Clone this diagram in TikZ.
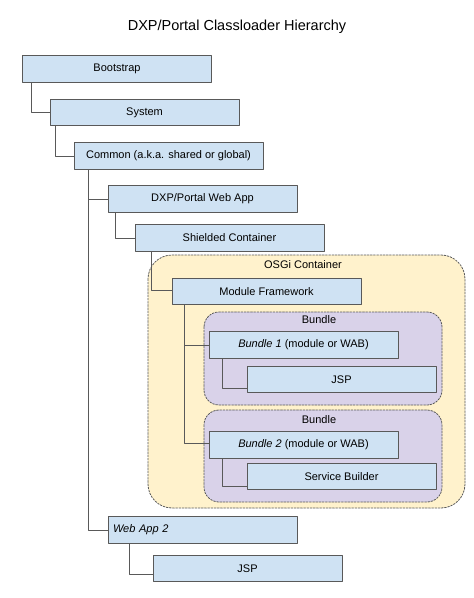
\documentclass[tikz,border=0pt]{standalone}
\usepackage{fontspec}
\setmainfont{Liberation Sans}
\usepackage{xcolor}
\definecolor{boxblue}{HTML}{CFE2F3}
\definecolor{boxline}{HTML}{595959}
\definecolor{osgiyellow}{HTML}{FFF2CC}
\definecolor{bundlepurple}{HTML}{D9D2E9}
\tikzset{
  loader/.style={draw=boxline, fill=boxblue, line width=0.9pt, minimum width=189pt, minimum height=26.5pt, inner sep=0pt, font=\fontsize{11}{13}\selectfont},
  link/.style={draw=boxline, line width=0.9pt},
  osgibox/.style={draw=boxline, fill=osgiyellow, line width=0.8pt, dash pattern=on 1.8pt off 1.4pt, rounded corners=24pt},
  bundlebox/.style={draw=boxline, fill=bundlepurple, line width=0.8pt, dash pattern=on 1.8pt off 1.4pt, rounded corners=15pt},
  caption/.style={font=\fontsize{11}{13}\selectfont}
}
\begin{document}
\begin{tikzpicture}[line cap=round,line join=round,x=1pt,y=-1pt]
			\useasboundingbox (0,0) rectangle (474,598);
			% containers
			\draw [osgibox] (148,255) rectangle (465,508);
			\draw [bundlebox] (204,312) rectangle (442,405);
			\draw [bundlebox] (204,410) rectangle (442,502);
			\node (title) at (237,27) {\fontsize{14.5}{17}\selectfont DXP/Portal Classloader Hierarchy};
			\node [caption] (osgilabel) at (303,265) {OSGi Container};
			\node [caption] (bundlelabela) at (319,320) {Bundle};
			\node [caption] (bundlelabelb) at (319,420) {Bundle};
			% class loaders
			\node [loader] (boot) at (117,69) {Bootstrap};
			\node [loader] (sys) at (144.5,112.5) {System};
			\node [loader] (common) at (168.5,156) {Common (a.k.a. shared or global)};
			\node [loader] (dxp) at (202.5,199) {DXP/Portal Web App};
			\node [loader] (shield) at (229.5,238) {Shielded Container};
			\node [loader] (modfw) at (266.5,291.5) {Module Framework};
			\node [loader] (bunone) at (303.5,345) {\textit{Bundle 1} (module or WAB)};
			\node [loader] (jspa) at (341.5,379.5) {JSP};
			\node [loader] (buntwo) at (303.5,445) {\textit{Bundle 2} (module or WAB)};
			\node [loader] (sb) at (341.5,476.5) {Service Builder};
			\node [loader, text width=179pt, align=left] (webtwo) at (202.5,530) {\textit{Web App 2}};
			\node [loader] (jspb) at (247.5,568.5) {JSP};
			% parent links
			\draw [link] ([xshift=9pt]boot.south west) |- (sys.west);
			\draw [link] ([xshift=6pt]sys.south west) |- (common.west);
			\draw [link] ([xshift=15pt]common.south west) |- (dxp.west);
			\draw [link] ([xshift=15pt]common.south west) |- (webtwo.west);
			\draw [link] ([xshift=8pt]dxp.south west) |- (shield.west);
			\draw [link] ([xshift=17pt]shield.south west) |- ([yshift=1.5pt]modfw.west);
			\draw [link] ([xshift=13pt]modfw.south west) |- (bunone.west);
			\draw [link] ([xshift=13pt]modfw.south west) |- ([yshift=2pt]buntwo.west);
			\draw [link] ([xshift=14pt]bunone.south west) |- ([yshift=-8.5pt]jspa.west);
			\draw [link] ([xshift=14pt]buntwo.south west) |- ([yshift=-9.5pt]sb.west);
			\draw [link] ([xshift=22pt]webtwo.south west) |- ([yshift=-5.5pt]jspb.west);
			\end{tikzpicture}
\end{document}
